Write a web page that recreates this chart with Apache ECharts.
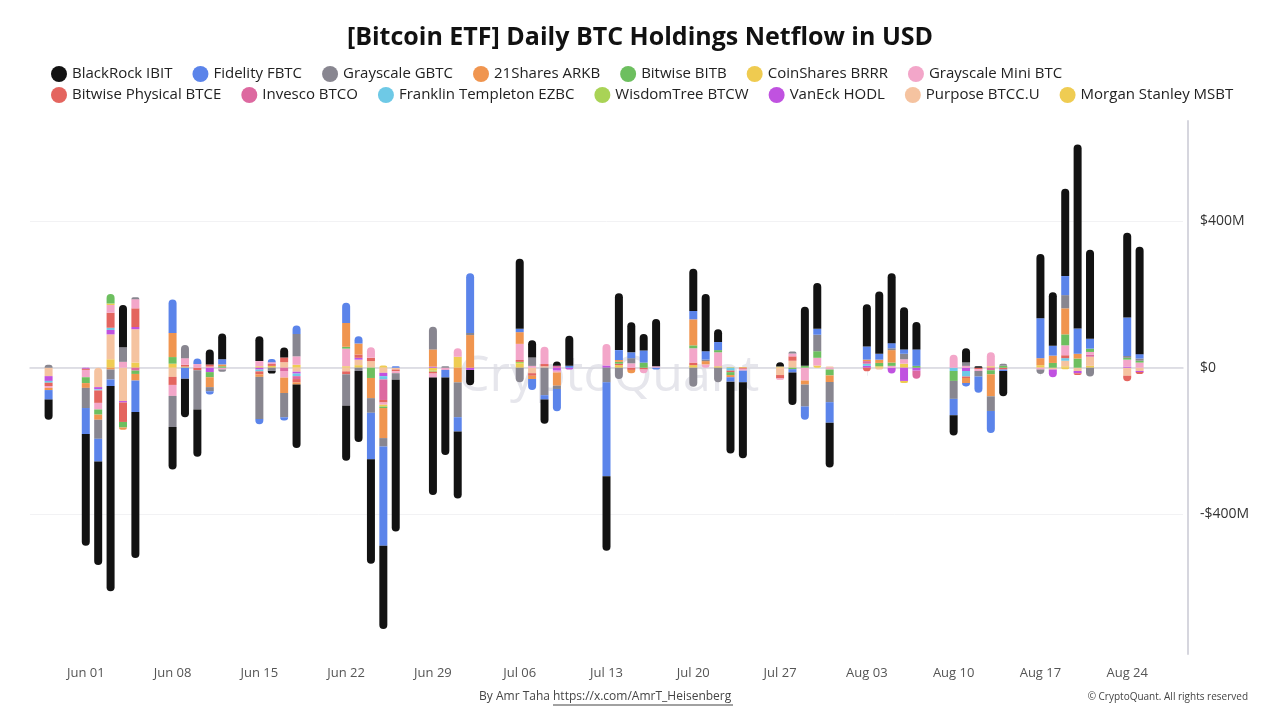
<!DOCTYPE html>
<html>
<head>
<meta charset="utf-8">
<title>[Bitcoin ETF] Daily BTC Holdings Netflow in USD</title>
<style>
html, body { margin: 0; padding: 0; background: #fff; }
#main { width: 1280px; height: 720px; }
</style>
</head>
<body>
<div id="main"></div>
<script src="https://cdn.jsdelivr.net/npm/echarts@6/dist/echarts.min.js"></script>
<script>
// trading days with a bar (flows in $M), one line per week
var days = [
  '2025-05-29',
  '2025-06-01', '2025-06-02', '2025-06-03', '2025-06-04', '2025-06-05',
  '2025-06-08', '2025-06-09', '2025-06-10', '2025-06-11', '2025-06-12',
  '2025-06-15', '2025-06-16', '2025-06-17', '2025-06-18',
  '2025-06-22', '2025-06-23', '2025-06-24', '2025-06-25', '2025-06-26',
  '2025-06-29', '2025-06-30', '2025-07-01', '2025-07-02',
  '2025-07-06', '2025-07-07', '2025-07-08', '2025-07-09', '2025-07-10',
  '2025-07-13', '2025-07-14', '2025-07-15', '2025-07-16', '2025-07-17',
  '2025-07-20', '2025-07-21', '2025-07-22', '2025-07-23', '2025-07-24',
  '2025-07-27', '2025-07-28', '2025-07-29', '2025-07-30', '2025-07-31',
  '2025-08-03', '2025-08-04', '2025-08-05', '2025-08-06', '2025-08-07',
  '2025-08-10', '2025-08-11', '2025-08-12', '2025-08-13', '2025-08-14',
  '2025-08-17', '2025-08-18', '2025-08-19', '2025-08-20', '2025-08-21',
  '2025-08-24', '2025-08-25'
];

var ibit = [
  -55,
  -305, -282, -560, 115, -398,
  -116, -105, -129, 41, 70,
  68, -7, 27, -173,
  -150, -194, -285, -227, -414,
  -320, -211, -183, -42,
  191, 47, -66, 12, 82,
  -203, 155, 82, 45, 129,
  115, 156, 35, -196, -207,
  12, -89, 161, 125, -122,
  115, 170, 191, 115, 75,
  -55, 39, 4, 0, -69,
  175, 146, 238, 502, 243,
  231, 293
];
var fbtc = [
  -26,
  -71, -62, -18, 0, -86,
  91, -30, 15, -9, 14,
  -14, 9, -9, 23,
  55, 20, -127, -271, 4,
  0, -21, -39, 163,
  9, -30, -12, -61, 5,
  -256, 27, 16, 33, -5,
  23, 23, 22, -12, -32,
  0, -9, -36, 16, -56,
  36, 16, 14, 12, 45,
  -45, -9, -44, -60, -4,
  109, 27, 52, 69, 27,
  105, 12
];
var gbtc = [
  8,
  -55, -52, -27, 40, 5,
  -85, 36, -107, -11, -6,
  -115, -9, -66, 61,
  -86, -9, -40, -23, -18,
  62, 4, -95, 6,
  -40, 23, -75, -9, 0,
  -40, -31, 14, 0, 0,
  -52, 4, -40, 0, 0,
  0, 5, -60, 45, -55,
  0, 0, 5, 15, 0,
  -49, 9, -15, -40, 6,
  -12, 0, 36, 0, -24,
  5, 6
];
var arkb = [
  -6,
  -13, -14, -5, -6, -18,
  66, 0, 0, -27, 5,
  -7, 0, -42, -6,
  65, 30, -55, -82, 0,
  47, 0, -40, 89,
  32, -9, 0, -36, 0,
  0, 5, -9, 0, 0,
  71, 9, 0, -6, 0,
  0, 0, -11, 0, -18,
  4, 9, 34, 0, 0,
  0, -14, 0, -60, 0,
  19, 20, 71, 13, 0,
  0, 0
];
var bitb = [
  0,
  -16, -14, 26, -15, -9,
  18, 0, 0, -14, 4,
  0, 0, 0, 0,
  5, 0, -28, -4, 0,
  0, 0, 0, 0,
  0, 0, 0, 0, 0,
  0, 5, 0, 14, 0,
  8, 0, 6, -8, 0,
  0, -4, 5, 18, -16,
  0, 9, 9, 0, 5,
  -27, 0, 0, -11, 5,
  0, 13, 30, 25, 9,
  5, 5
];
var brrr = [
  0,
  0, 0, 4, 0, 0,
  11, 0, 0, 0, 0,
  0, 0, 0, 0,
  0, 0, 0, -5, 0,
  0, 0, 0, 0,
  0, 0, 0, 0, 0,
  0, 0, 0, 0, 0,
  0, 0, 0, 0, 0,
  0, 0, 0, 0, 0,
  0, 0, 0, -6, 0,
  0, 0, 0, 0, 0,
  0, 0, -4, 0, 0,
  0, 0
];
var mini = [
  -5,
  -20, -18, 21, 16, 25,
  -30, 18, 10, 0, -5,
  14, 5, -18, 23,
  48, 0, 29, -6, -5,
  -11, -6, 23, 0,
  44, 5, 47, -5, 0,
  59, 0, 12, -10, 4,
  39, 9, 38, 0, -5,
  -4, 8, -35, 21, -5,
  0, 0, 5, 12, 0,
  35, 5, -5, 38, 0,
  -5, 0, 27, 0, 7,
  19, 14
];
var btce = [
  -9,
  -3, -34, 41, -53, 51,
  -22, 5, -7, 6, 0,
  -8, 5, 13, -9,
  -8, 9, 9, -7, -5,
  -5, 0, 0, 0,
  5, -7, 6, 0, 0,
  0, 4, -6, -5, 0,
  7, 0, 0, -4, -3,
  -9, 12, 0, 0, 0,
  -10, 0, 0, 0, 0,
  0, -4, -4, 0, -5,
  0, 0, 8, -5, 0,
  -15, -5
];
var btco = [
  0,
  0, 0, 0, 0, -8,
  0, 0, 0, 0, 0,
  0, 0, -9, -8,
  0, 0, 0, -56, 0,
  0, 0, 0, 0,
  0, 0, 0, 5, 0,
  0, 0, 0, 0, 0,
  0, 0, 0, 0, 0,
  0, 0, 0, 0, 0,
  7, 0, 0, 0, -22,
  0, 0, 0, -7, 0,
  0, 0, 0, 0, 6,
  0, 0
];
var ezbc = [
  -5,
  0, -3, 6, 0, 0,
  0, 0, 0, 0, 0,
  -5, 0, 0, -7,
  0, 0, 0, -9, 0,
  0, 0, 0, 0,
  0, 0, 0, 0, 0,
  0, 0, 0, 0, 0,
  0, 0, 0, -8, 0,
  0, 0, 0, 0, 0,
  6, 0, 0, 0, 0,
  -9, -15, 0, 0, 0,
  0, 0, 7, 0, 0,
  0, 0
];
var btcw = [
  0,
  0, 0, 0, 0, 0,
  0, 0, 0, 0, 0,
  0, 0, 0, 0,
  0, 0, 0, 0, 0,
  -3, 0, 0, 0,
  4, 0, 0, 0, 0,
  0, 0, 0, 0, 0,
  0, 0, 0, 0, 0,
  0, 0, 0, 0, 0,
  0, 0, 0, 0, 0,
  0, 0, 0, 0, 0,
  0, 0, 0, 0, 0,
  0, 0
];
var hodl = [
  -13,
  -3, -6, 12, -4, 6,
  0, 0, 0, -12, 0,
  -5, 0, 0, -5,
  0, 5, 0, -9, 0,
  3, 0, 0, -6,
  0, 0, 0, -8, -5,
  6, 0, 0, 0, 0,
  0, 0, 0, 0, 0,
  0, 0, 0, 0, 0,
  5, 0, -16, -36, -8,
  0, -9, 0, 0, 0,
  0, -21, 0, -6, 0,
  3, -3
];
var btccu = [
  -23,
  0, -53, 68, -91, 91,
  -25, 0, 0, 3, 0,
  0, 0, 15, -11,
  -10, 15, 18, -14, -5,
  0, 0, 0, 0,
  0, -15, 4, 0, 0,
  0, 0, 0, 0, 0,
  0, 0, 0, 0, 0,
  -20, 19, 0, 0, 3,
  0, -5, 0, 0, 0,
  0, 0, 0, 0, 0,
  0, -5, 15, -9, 25,
  -22, -9
];
var msbt = [
  0,
  0, 0, 23, 0, 14,
  0, 3, 0, 0, 0,
  4, 5, 0, 8,
  4, 7, 0, 6, 0,
  -8, 0, 30, 0,
  12, 0, 0, 0, 0,
  0, 7, 0, 0, 0,
  7, 0, 4, 2, 2,
  3, 0, 0, 6, 0,
  0, 4, 0, 11, 0,
  0, 0, 0, 4, 0,
  7, 0, 4, 0, 5,
  0, 0
];

var names = ['BlackRock IBIT', 'Fidelity FBTC', 'Grayscale GBTC', '21Shares ARKB', 'Bitwise BITB',
  'CoinShares BRRR', 'Grayscale Mini BTC', 'Bitwise Physical BTCE', 'Invesco BTCO',
  'Franklin Templeton EZBC', 'WisdomTree BTCW', 'VanEck HODL', 'Purpose BTCC.U', 'Morgan Stanley MSBT'];
var values = [ibit, fbtc, gbtc, arkb, bitb, brrr, mini, btce, btco, ezbc, btcw, hodl, btccu, msbt];
var colors = ['#121212', '#5b84ea', '#888690', '#f0954f', '#6dbf5f', '#efcb50', '#f3a6c9',
  '#e4655f', '#dd69a0', '#6ec9e6', '#a9d356', '#c052e0', '#f5c3a0', '#efcc52'];

var yTicks = [-400, 0, 400];
var yMin = -781, yMax = 673;

var FONT = 'Open Sans';

// every calendar day on the axis, weekends left empty
var categories = [];
var cur = new Date(Date.UTC(2025, 4, 28));
var last = Date.UTC(2025, 7, 28);
while (cur.getTime() <= last) {
  categories.push(cur.toISOString().slice(0, 10));
  cur.setUTCDate(cur.getUTCDate() + 1);
}
var dayIndex = {};
days.forEach(function (d, k) { dayIndex[d] = k; });

var months = ['Jan', 'Feb', 'Mar', 'Apr', 'May', 'Jun', 'Jul', 'Aug', 'Sep', 'Oct', 'Nov', 'Dec'];
function isSunday(i) {
  return new Date(categories[i] + 'T00:00:00Z').getUTCDay() === 0;
}

// stack from zero outwards: last legend item first, IBIT outermost
var stackOrder = [];
for (var s = names.length - 1; s >= 0; s--) stackOrder.push(s);

// round only the two outer ends of each day's stack
var R = 4;
var topSeg = [], botSeg = [];
days.forEach(function (d, k) {
  var pos = stackOrder.filter(function (s) { return values[s][k] > 0; });
  var neg = stackOrder.filter(function (s) { return values[s][k] < 0; });
  topSeg[k] = pos.length ? pos[pos.length - 1] : neg[0];
  botSeg[k] = neg.length ? neg[neg.length - 1] : pos[0];
});

var series = stackOrder.map(function (s) {
  return {
    name: names[s],
    type: 'bar',
    stack: 'flow',
    barWidth: 8,
    itemStyle: { color: colors[s] },
    emphasis: { disabled: true },
    data: categories.map(function (c) {
      var k = dayIndex[c];
      if (k === undefined) return '-';
      var v = values[s][k];
      if (!v) return '-';
      var t = topSeg[k] === s ? R : 0, b = botSeg[k] === s ? R : 0;
      return { value: v, itemStyle: { borderRadius: [t, t, b, b] } };
    })
  };
});

var legendBase = {
  left: 46,
  icon: 'circle',
  itemWidth: 16,
  itemHeight: 16,
  itemGap: 20,
  selectedMode: false,
  textStyle: { fontFamily: FONT, fontSize: 15, color: '#222' }
};

var chart = echarts.init(document.getElementById('main'));
chart.setOption({
  animation: false,
  backgroundColor: '#fff',
  color: colors,
  title: {
    text: '[Bitcoin ETF] Daily BTC Holdings Netflow in USD',
    left: 'center',
    top: 20,
    textStyle: { fontFamily: FONT, fontSize: 25, fontWeight: 'bold', color: '#111' }
  },
  legend: [
    Object.assign({}, legendBase, { top: 61, data: names.slice(0, 7) }),
    Object.assign({}, legendBase, { top: 82, data: names.slice(7) })
  ],
  grid: { left: 30, right: 97, top: 121, bottom: 66 },
  xAxis: {
    type: 'category',
    data: categories,
    axisLine: { lineStyle: { color: '#d6d6de', width: 1.5 } },
    axisTick: { show: true, interval: function (i) { return isSunday(i); }, alignWithLabel: true, length: 8, lineStyle: { color: '#ececf0' } },
    axisLabel: {
      interval: function (i) { return isSunday(i); },
      formatter: function (v) {
        var p = v.split('-');
        return months[parseInt(p[1], 10) - 1] + ' ' + p[2];
      },
      color: '#555',
      fontFamily: FONT,
      fontSize: 13,
      margin: 13
    },
    splitLine: { show: false }
  },
  yAxis: {
    type: 'value',
    position: 'right',
    offset: 5,
    min: yMin,
    max: yMax,
    axisLine: { show: true, lineStyle: { color: '#d6d6de', width: 2 } },
    axisTick: { show: false, customValues: yTicks },
    axisLabel: {
      customValues: yTicks,
      formatter: function (v) {
        if (v === 0) return '$0';
        return (v < 0 ? '-$' : '$') + Math.abs(v) + 'M';
      },
      color: '#333',
      fontFamily: FONT,
      fontSize: 14,
      margin: 12
    },
    splitLine: { show: true, lineStyle: { color: '#f2f2f4' } }
  },
  graphic: [
    {
      type: 'text', left: 458, top: 352, z: -1, silent: true,
      style: { text: 'CryptoQuant', fontFamily: FONT, fontSize: 50, fill: '#e6e6ec' }
    },
    {
      type: 'text', right: 730, top: 691,
      style: { text: 'By Amr Taha', fontFamily: FONT, fontSize: 12, fill: '#444' }
    },
    {
      type: 'text', left: 553, top: 691,
      style: { text: 'https://x.com/AmrT_Heisenberg', fontFamily: FONT, fontSize: 12, fill: '#444' }
    },
    {
      type: 'line', shape: { x1: 553, y1: 705, x2: 733, y2: 705 },
      style: { stroke: '#444', lineWidth: 1 }
    },
    {
      type: 'text', right: 32, top: 692,
      style: { text: '\u00a9 CryptoQuant. All rights reserved', fontFamily: FONT, fontSize: 10, fill: '#444' }
    }
  ],
  series: series
});
</script>
</body>
</html>
